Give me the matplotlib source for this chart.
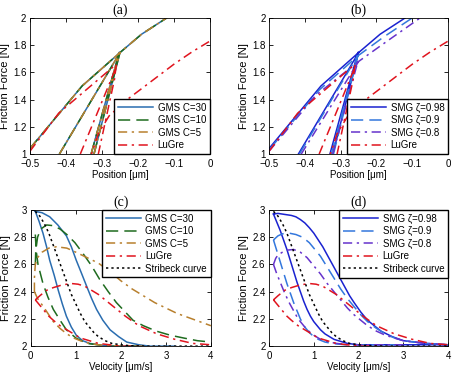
import matplotlib
matplotlib.use("Agg")
import matplotlib.pyplot as plt
import numpy as np

nan = np.nan

# ---- panel (a)/(b): position domain ----
gms_pos_x = [-0.5, -0.355, -0.25, -0.19, -0.12, nan, -0.418, -0.25, nan, -0.33, -0.252, nan, -0.322, -0.25]
gms_pos_y = [1.04, 1.5, 1.745, 1.88, 2.0, nan, 1.0, 1.745, nan, 1.0, 1.745, nan, 1.0, 1.745]

smg98_pos_x = gms_pos_x
smg98_pos_y = gms_pos_y
smg90_pos_x = [-0.5, -0.36, -0.25, -0.18, -0.10, nan, -0.415, -0.252, nan, -0.326, -0.253, nan, -0.32, -0.252]
smg90_pos_y = [1.03, 1.47, 1.725, 1.86, 2.0, nan, 1.0, 1.725, nan, 1.0, 1.725, nan, 1.0, 1.725]
smg80_pos_x = [-0.5, -0.37, -0.25, -0.17, -0.078, nan, -0.41, -0.25, nan, -0.322, -0.252]
smg80_pos_y = [1.02, 1.43, 1.68, 1.83, 2.0, nan, 1.0, 1.68, nan, 1.0, 1.68]

lugre_pos_x = [-0.335, -0.31, -0.28, -0.23, -0.15, -0.10, -0.05, 0.0, nan,
               -0.36, -0.26, nan,
               -0.5, -0.42, -0.26, -0.265, -0.31]
lugre_pos_y = [0.95, 1.15, 1.28, 1.40, 1.56, 1.66, 1.75, 1.83, nan,
               1.0, 1.64, nan,
               1.02, 1.30, 1.66, 1.55, 1.0]

# ---- panel (c)/(d): velocity domain (upper branch, nan, lower branch) ----
gms30_v = [0.1, 0.25, 0.42, 0.6, 0.79, 0.9, 1.01, 1.12, 1.24, 1.35, 1.46, 1.6, 1.76, 1.95, 2.13, 2.4, 2.64, 3.2, nan,
           0.1, 0.18, 0.27, 0.35, 0.42, 0.52, 0.61, 0.7, 0.79, 0.9, 1.01, 1.15, 1.31, 1.5, 1.76, 2.5]
gms30_f = [2.99, 2.98, 2.95, 2.89, 2.81, 2.73, 2.63, 2.54, 2.44, 2.35, 2.27, 2.19, 2.12, 2.07, 2.03, 2.01, 2.0, 2.0, nan,
           2.99, 2.92, 2.83, 2.73, 2.63, 2.52, 2.41, 2.31, 2.22, 2.14, 2.08, 2.04, 2.02, 2.01, 2.0, 2.0]

gms10_v = [0.1, 0.11, 0.15, 0.22, 0.35, 0.5, 0.65, 0.8, 0.98, 1.16, 1.35, 1.53, 1.72, 1.9, 2.1, 2.27,
           2.5, 2.79, 3.1, 3.39, 3.7, 4.0, nan,
           0.1, 0.12, 0.16, 0.27, 0.38, 0.5, 0.65, 0.79, 1.0, 1.24, 1.5, 1.76, 2.5]
gms10_f = [2.6, 2.7, 2.8, 2.86, 2.89, 2.885, 2.86, 2.82, 2.76, 2.68, 2.59, 2.49, 2.40, 2.32, 2.25, 2.19,
           2.15, 2.11, 2.08, 2.06, 2.04, 2.03, nan,
           2.82, 2.7, 2.6, 2.46, 2.36, 2.27, 2.19, 2.12, 2.06, 2.02, 2.01, 2.0, 2.0]

gms5_v = [0.08, 0.08, 0.1, 0.15, 0.25, 0.4, 0.57, 0.8, 1.0, 1.25, 1.5, 1.75, 2.0, 2.25, 2.5, 2.75,
          3.0, 3.25, 3.5, 3.75, 4.0, nan,
          0.08, 0.15, 0.3, 0.5, 0.65, 0.8, 0.95, 1.1, 1.3, 1.5, 2.0, 2.5]
gms5_f = [2.4, 2.5, 2.6, 2.65, 2.69, 2.72, 2.73, 2.72, 2.69, 2.65, 2.61, 2.55, 2.48, 2.42, 2.37, 2.32,
          2.28, 2.24, 2.21, 2.18, 2.15, nan,
          2.4, 2.35, 2.28, 2.18, 2.13, 2.09, 2.06, 2.04, 2.02, 2.01, 2.0, 2.0]

lugre_v = [0.1, 0.2, 0.35, 0.5, 0.7, 0.9, 1.05, 1.2, 1.35, 1.5, 1.65, 1.8, 1.95, 2.1, 2.25, 2.4,
           2.6, 2.8, 3.0, 3.2, 3.4, 3.6, 3.8, 4.0, nan,
           0.1, 0.2, 0.3, 0.4, 0.5, 0.65, 0.8, 0.95, 1.1, 1.3, 1.5, 1.75, 2.0, 2.5]
lugre_f = [2.34, 2.37, 2.41, 2.43, 2.45, 2.46, 2.455, 2.44, 2.41, 2.38, 2.34, 2.3, 2.26, 2.22, 2.185, 2.15,
           2.12, 2.09, 2.07, 2.05, 2.035, 2.02, 2.015, 2.01, nan,
           2.34, 2.30, 2.26, 2.22, 2.19, 2.15, 2.12, 2.09, 2.06, 2.04, 2.02, 2.01, 2.0, 2.0]

strib_v = [0.1, 0.2, 0.3, 0.4, 0.5, 0.6, 0.7, 0.8, 0.9, 1.0, 1.1, 1.2, 1.3, 1.4, 1.5, 1.65, 1.8, 2.0, 2.2, 2.6, 4.0]
strib_f = [2.99, 2.955, 2.90, 2.83, 2.74, 2.65, 2.56, 2.47, 2.38, 2.31, 2.24, 2.18, 2.14, 2.10, 2.07, 2.04,
           2.02, 2.01, 2.003, 2.0, 2.0]

smg98_v = [0.1, 0.2, 0.3, 0.4, 0.5, 0.6, 0.7, 0.8, 0.9, 1.0, 1.1, 1.2, 1.3, 1.4, 1.5, 1.6, 1.7, 1.8, 1.9,
           2.05, 2.2, 2.35, 2.5, 2.75, 3.0, 3.25, 3.5, 4.0, nan,
           0.1, 0.175, 0.25, 0.325, 0.4, 0.475, 0.55, 0.625, 0.7, 0.775, 0.85, 0.925, 1.0, 1.075, 1.15,
           1.25, 1.35, 1.45, 1.55, 1.75, 2.0, 3.0, 4.0]
smg98_f = [2.97, 2.975, 2.97, 2.965, 2.96, 2.95, 2.93, 2.905, 2.87, 2.83, 2.78, 2.73, 2.67, 2.61, 2.55, 2.49,
           2.43, 2.37, 2.32, 2.25, 2.19, 2.15, 2.11, 2.07, 2.04, 2.03, 2.02, 2.01, nan,
           2.97, 2.91, 2.85, 2.78, 2.71, 2.63, 2.55, 2.47, 2.40, 2.33, 2.27, 2.22, 2.18, 2.15, 2.12,
           2.09, 2.07, 2.05, 2.04, 2.02, 2.01, 2.01, 2.01]

smg90_v = [0.1, 0.2, 0.3, 0.45, 0.6, 0.75, 0.9, 1.0, 1.15, 1.3, 1.45, 1.6, 1.75, 1.9, 2.05, 2.2,
           2.4, 2.6, 2.8, 3.0, 3.5, 4.0, nan,
           0.1, 0.175, 0.25, 0.325, 0.4, 0.475, 0.55, 0.625, 0.7, 0.8, 0.9, 1.0, 1.1, 1.25, 1.4,
           1.7, 2.0, 3.0]
smg90_f = [2.78, 2.81, 2.825, 2.83, 2.82, 2.80, 2.76, 2.72, 2.66, 2.58, 2.50, 2.42, 2.35, 2.29, 2.23, 2.18,
           2.13, 2.09, 2.06, 2.04, 2.02, 2.01, nan,
           2.78, 2.70, 2.62, 2.54, 2.46, 2.39, 2.32, 2.26, 2.20, 2.14, 2.10, 2.07, 2.05, 2.03, 2.02,
           2.01, 2.01, 2.01]

smg80_v = [0.1, 0.15, 0.2, 0.3, 0.4, 0.55, 0.7, 0.85, 1.0, 1.15, 1.3, 1.45, 1.6, 1.75, 1.9, 2.05,
           2.2, 2.4, 2.6, 2.8, 3.0, 3.5, 4.0, nan,
           0.1, 0.175, 0.25, 0.35, 0.45, 0.55, 0.65, 0.75, 0.85, 1.0, 1.15, 1.3, 1.5, 1.8, 2.0, 3.0]
smg80_f = [2.6, 2.645, 2.67, 2.69, 2.705, 2.71, 2.69, 2.65, 2.59, 2.53, 2.46, 2.40, 2.34, 2.28, 2.23, 2.19,
           2.15, 2.11, 2.08, 2.06, 2.04, 2.02, 2.01, nan,
           2.6, 2.53, 2.47, 2.39, 2.32, 2.26, 2.2, 2.16, 2.12, 2.08, 2.05, 2.035, 2.02, 2.01, 2.01, 2.01]

c_gms30 = "#2a6db0"
c_gms10 = "#1e6b1e"
c_gms5 = "#b8802e"
c_lugre = "#e0141e"
c_s98 = "#1a22d0"
c_s90 = "#3377dd"
c_s80 = "#6633cc"

dash = (0, (8, 4))
dashdot = (0, (6, 3, 1.5, 3))
dotted = (0, (1.5, 2))

plt.rcParams["font.family"] = ["Liberation Sans", "DejaVu Sans"]

fig = plt.figure(figsize=(4.74, 3.73), dpi=100)
axa = fig.add_axes([0.063, 0.587, 0.380, 0.365])
axb = fig.add_axes([0.5675, 0.587, 0.378, 0.365])
axc = fig.add_axes([0.065, 0.072, 0.380, 0.365])
axd = fig.add_axes([0.5675, 0.072, 0.378, 0.365])

lw = 1.1

axa.plot(gms_pos_x, gms_pos_y, color=c_gms30, lw=lw, label="GMS C=30")
axa.plot(gms_pos_x, gms_pos_y, color=c_gms10, lw=lw, ls=dash, label="GMS C=10")
axa.plot(gms_pos_x, gms_pos_y, color=c_gms5, lw=lw, ls=dashdot, label="GMS C=5")
axa.plot(lugre_pos_x, lugre_pos_y, color=c_lugre, lw=lw, ls=dashdot, label="LuGre")

axb.plot(smg98_pos_x, smg98_pos_y, color=c_s98, lw=lw, label="SMG ζ=0.98")
axb.plot(smg90_pos_x, smg90_pos_y, color=c_s90, lw=lw, ls=dash, label="SMG ζ=0.9")
axb.plot(smg80_pos_x, smg80_pos_y, color=c_s80, lw=lw, ls=dashdot, label="SMG ζ=0.8")
axb.plot(lugre_pos_x, lugre_pos_y, color=c_lugre, lw=lw, ls=dashdot, label="LuGre")

axc.plot(gms30_v, gms30_f, color=c_gms30, lw=lw, label="GMS C=30")
axc.plot(gms10_v, gms10_f, color=c_gms10, lw=lw, ls=dash, label="GMS C=10")
axc.plot(gms5_v, gms5_f, color=c_gms5, lw=lw, ls=dashdot, label="GMS C=5")
axc.plot(lugre_v, lugre_f, color=c_lugre, lw=lw, ls=dashdot, label="LuGre")
axc.plot(strib_v, strib_f, color="black", lw=lw, ls=dotted, label="Stribeck curve")

axd.plot(smg98_v, smg98_f, color=c_s98, lw=lw, label="SMG ζ=0.98")
axd.plot(smg90_v, smg90_f, color=c_s90, lw=lw, ls=dash, label="SMG ζ=0.9")
axd.plot(smg80_v, smg80_f, color=c_s80, lw=lw, ls=dashdot, label="SMG ζ=0.8")
axd.plot(lugre_v, lugre_f, color=c_lugre, lw=lw, ls=dashdot, label="LuGre")
axd.plot(strib_v, strib_f, color="black", lw=lw, ls=dotted, label="Stribeck curve")

leg_kw = dict(fontsize=7, handlelength=3.6, borderaxespad=0, fancybox=False,
              edgecolor="black", framealpha=1, labelspacing=0.25,
              handletextpad=0.5, borderpad=0.4)

for ax, t in zip([axa, axb], ["(a)", "(b)"]):
    ax.set_xlim(-0.5, 0)
    ax.set_ylim(1, 2)
    ax.set_xticks([-0.5, -0.4, -0.3, -0.2, -0.1, 0])
    ax.set_xticklabels(["\u22120.5", "\u22120.4", "\u22120.3", "\u22120.2", "\u22120.1", "0"])
    ax.set_yticks([1, 1.2, 1.4, 1.6, 1.8, 2])
    ax.set_yticklabels(["1", "1.2", "1.4", "1.6", "1.8", "2"])
    ax.set_xlabel("Position [\u03bcm]", fontsize=7, labelpad=1)
    ax.set_title(t, family="Liberation Serif", fontsize=10, pad=3)
    ax.legend(loc="lower right", **leg_kw)

for ax, t in zip([axc, axd], ["(c)", "(d)"]):
    ax.set_xlim(0, 4)
    ax.set_ylim(2, 3)
    ax.set_xticks([0, 1, 2, 3, 4])
    ax.set_yticks([2, 2.2, 2.4, 2.6, 2.8, 3])
    ax.set_yticklabels(["2", "2.2", "2.4", "2.6", "2.8", "3"])
    ax.set_xlabel("Velocity [\u03bcm/s]", fontsize=7, labelpad=1)
    ax.set_title(t, family="Liberation Serif", fontsize=10, pad=3)
    ax.legend(loc="upper right", **leg_kw)

for ax in [axa, axb, axc, axd]:
    ax.set_ylabel("Friction Force [N]", fontsize=8, labelpad=2)
    ax.tick_params(direction="in", top=True, right=True, labelsize=7, length=3, width=0.6)
    ax.tick_params(axis="x", pad=3.5)
    ax.tick_params(axis="y", pad=2.5)
    for s in ax.spines.values():
        s.set_linewidth(0.6)

fig.savefig("out.png", dpi=100)
